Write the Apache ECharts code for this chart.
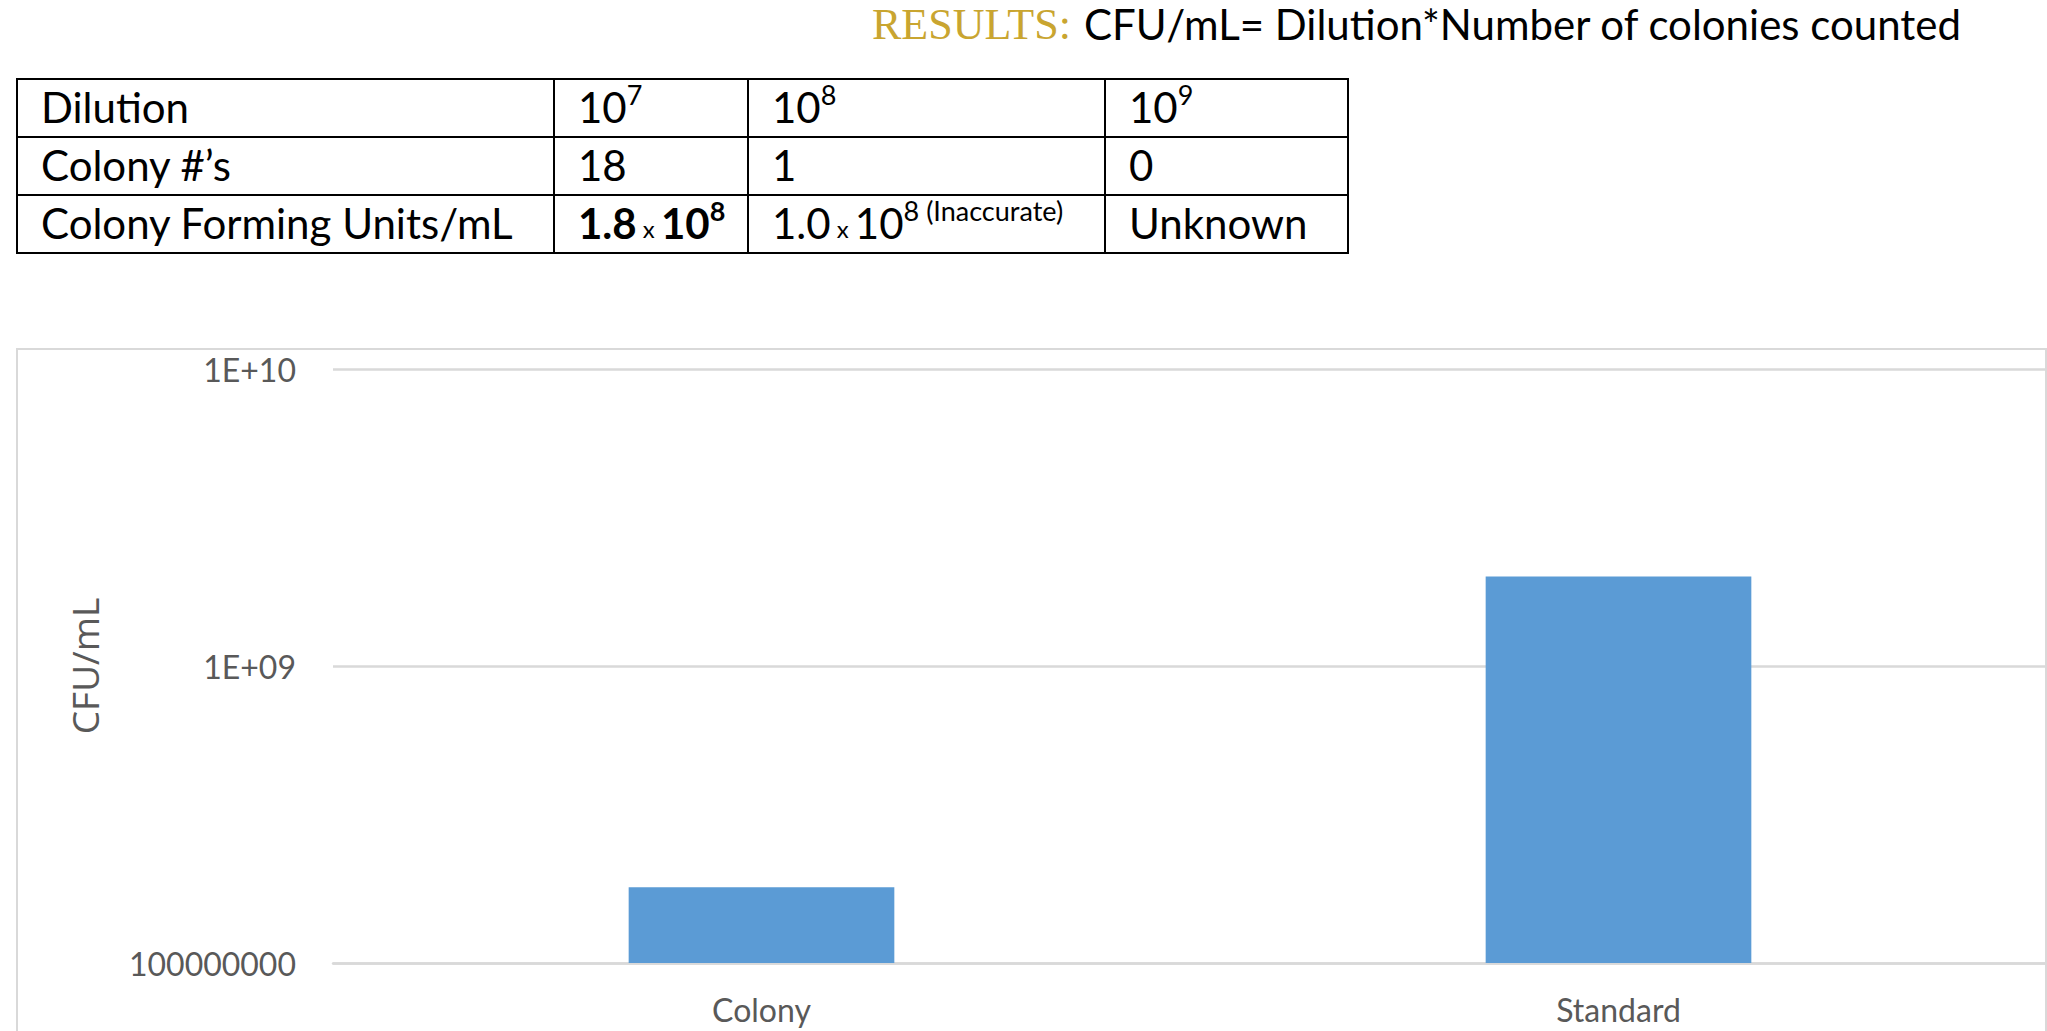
<!DOCTYPE html>
<html><head><meta charset="utf-8">
<script src="https://cdn.jsdelivr.net/npm/echarts@6/dist/echarts.min.js"></script>
<style>html,body{margin:0;padding:0;background:#fff;overflow:hidden;}#c{width:2047px;height:1031px;}</style>
</head><body><div id="c"></div>
<script>
// ---- data ----
const categories = ['Colony', 'Standard'];
const cfuValues = [1.8e8, 2.0e9];
const yTickLabels = ['100000000', '1E+09', '1E+10'];
const yMin = 1e8, yMax = 1e10;
const yAxisName = 'CFU/mL';

const tableRowHeaders = ['Dilution', 'Colony #’s', 'Colony Forming Units/mL'];
const dilutionExponents = [7, 8, 9];
const colonyCounts = [18, 1, 0];
const cfuMantissas = ['1.8', '1.0', null];
const cfuExponents = [8, 8, null];
const cfuNotes = ['', '(Inaccurate)', 'Unknown'];
const cfuBold = [true, false, false];

const titleLead = 'RESULTS:';
const titleText = 'CFU/mL= Dilution*Number of colonies counted';

// ---- layout ----
const colEdges = [17, 554, 748, 1105, 1348];
const rowEdges = [79, 137, 195, 253];
const cellPad = 24;
const FONT = 'Lato';
const BASE = 42, SUP = 27;
const LH = 56;
const SUP_RAISE = 26;

const rich = {
  n:  {fontFamily: FONT, fontSize: BASE, fill: '#000', lineHeight: LH},
  nb: {fontFamily: FONT, fontSize: BASE, fontWeight: 'bold', fill: '#000', lineHeight: LH},
  s:  {fontFamily: FONT, fontSize: SUP, fill: '#000', lineHeight: LH, padding: [0, 0, SUP_RAISE, 0]},
  sb: {fontFamily: FONT, fontSize: SUP, fontWeight: 'bold', fill: '#000', lineHeight: LH, padding: [0, 0, SUP_RAISE, 0]},
  x:  {fontFamily: FONT, fontSize: 24, fill: '#000', lineHeight: LH, padding: [10, 0, 0, 0]}
};

function cellText(r, c) {
  if (c === 0) return '{n|' + tableRowHeaders[r] + '}';
  const i = c - 1;
  if (r === 0) return '{n|10}{s|' + dilutionExponents[i] + '}';
  if (r === 1) return '{n|' + colonyCounts[i] + '}';
  if (cfuMantissas[i] === null) return '{n|' + cfuNotes[i] + '}';
  const b = cfuBold[i] ? 'nb' : 'n', sb = cfuBold[i] ? 'sb' : 's';
  const sup = cfuExponents[i] + (cfuNotes[i] ? ' ' + cfuNotes[i] : '');
  return '{' + b + '|' + cfuMantissas[i] + '}{x| x }{' + b + '|10}{' + sb + '|' + sup + '}';
}

const graphics = [];
// title
graphics.push({
  type: 'text', x: 872, y: 24, z: 10,
  style: {text: titleLead, fontFamily: 'Liberation Serif', fontSize: 44, lineHeight: 46, fill: '#c9a530', verticalAlign: 'middle'}
});
graphics.push({
  type: 'text', x: 1084, y: 24, z: 10,
  style: {text: titleText, fontFamily: FONT, fontSize: BASE, lineHeight: 46, fill: '#000', verticalAlign: 'middle'}
});
// table grid lines
for (let r = 0; r < rowEdges.length; r++) {
  graphics.push({type: 'line', shape: {x1: colEdges[0] - 1, y1: rowEdges[r], x2: colEdges[colEdges.length - 1] + 1, y2: rowEdges[r]},
    style: {stroke: '#000', lineWidth: 2}});
}
for (let c = 0; c < colEdges.length; c++) {
  graphics.push({type: 'line', shape: {x1: colEdges[c], y1: rowEdges[0], x2: colEdges[c], y2: rowEdges[rowEdges.length - 1]},
    style: {stroke: '#000', lineWidth: 2}});
}
// table texts
for (let r = 0; r < 3; r++) {
  for (let c = 0; c < 4; c++) {
    graphics.push({
      type: 'text', x: colEdges[c] + cellPad, y: (rowEdges[r] + rowEdges[r + 1]) / 2 - 1,
      style: {text: cellText(r, c), rich: rich, verticalAlign: 'middle', align: 'left'}
    });
  }
}
// chart area border
graphics.push({type: 'rect', shape: {x: 17, y: 349, width: 2029, height: 720},
  style: {fill: 'none', stroke: '#d9d9d9', lineWidth: 2}, z: -1});

const chart = echarts.init(document.getElementById('c'), null, {renderer: 'svg'});
chart.setOption({
  backgroundColor: '#fff',
  animation: false,
  graphic: graphics,
  grid: {left: 333, right: 0, top: 369, bottom: 1031 - 963},
  xAxis: {
    type: 'category', data: categories,
    axisLine: {show: true, lineStyle: {color: '#d9d9d9', width: 2.5}},
    axisTick: {show: false},
    axisLabel: {fontFamily: FONT, fontSize: 32, color: '#595959', margin: 30}
  },
  yAxis: {
    type: 'log', logBase: 10, min: yMin, max: yMax,
    name: yAxisName, nameLocation: 'middle', nameGap: 230,
    nameTextStyle: {fontFamily: 'Open Sans', fontSize: 37, color: '#595959'},
    axisLine: {show: false}, axisTick: {show: false},
    splitLine: {show: true, lineStyle: {color: '#d9d9d9', width: 2.5}},
    axisLabel: {
      fontFamily: FONT, fontSize: 32, color: '#595959', margin: 37,
      formatter: function (v) { return yTickLabels[Math.round(Math.log10(v) - Math.log10(yMin))]; }
    }
  },
  series: [{
    type: 'bar', data: cfuValues, barWidth: '31%', clip: true,
    itemStyle: {color: '#5b9bd5'}
  }]
});
</script></body></html>
